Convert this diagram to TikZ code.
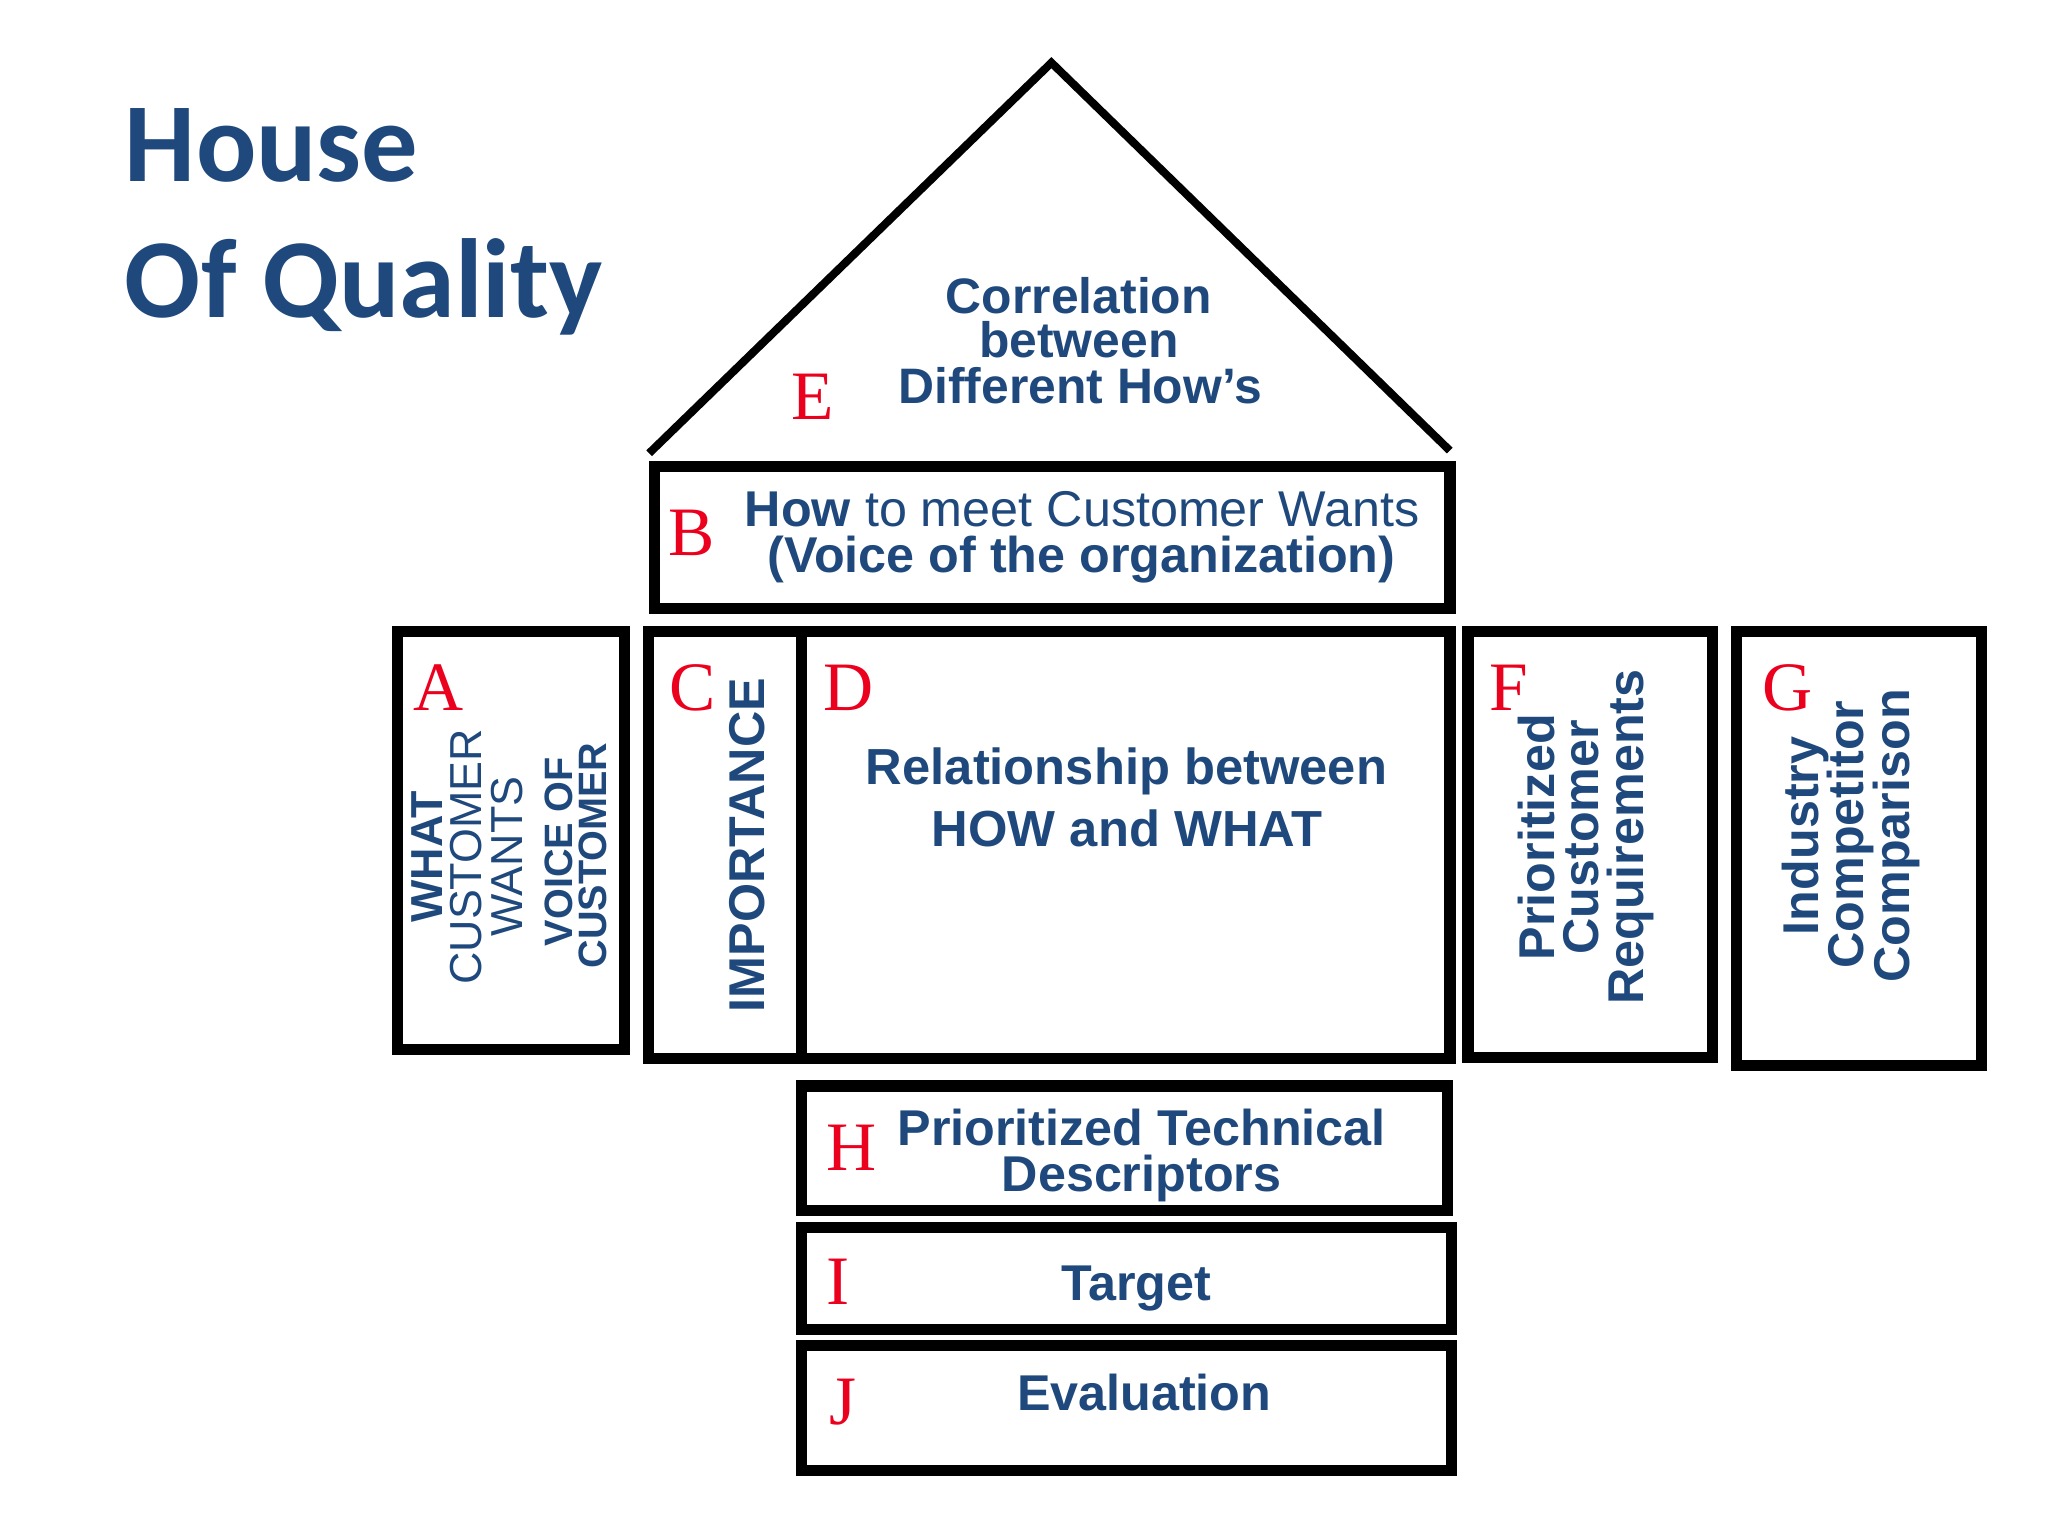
\documentclass[tikz,border=0pt]{standalone}
\usepackage{fontspec}
\setmainfont{Liberation Sans}
\newfontfamily\titlefont{Carlito}
\newfontfamily\letterfont{Liberation Serif}
\definecolor{navy}{RGB}{31,73,125}
\definecolor{lred}{RGB}{235,0,30}
\begin{document}
\begin{tikzpicture}[x=0.01cm,y=-0.01cm,
  box/.style={draw=black,line width=2.42pt,inner sep=0pt,outer sep=0pt},
  roofline/.style={draw=black,line width=1.75pt,line join=miter},
  txt/.style={text=navy,font=\bfseries\fontsize{10.95pt}{11pt}\selectfont,inner sep=0pt,anchor=base},
  rtxt/.style={text=navy,font=\fontsize{10.95pt}{11pt}\selectfont,inner sep=0pt,anchor=base},
  lbl/.style={text=lred,font=\letterfont\fontsize{15.1pt}{15pt}\selectfont,inner sep=0pt,anchor=base west},
  ttl/.style={text=navy,font=\titlefont\bfseries\fontsize{24.5pt}{24pt}\selectfont,inner sep=0pt,anchor=base west}]
\useasboundingbox (0,0) rectangle (1568,1176);
% title
\node[ttl] (t1) at (95,139) {House};
\node[ttl] (t2) at (95,243) {Of Quality};
% roof
\coordinate (rl) at (497,347);
\coordinate (ra) at (805,48);
\coordinate (rr) at (1110,345);
\draw[roofline] (rl) -- (ra) -- (rr);
\node[txt,font=\bfseries\fontsize{10.85pt}{11pt}\selectfont] (e1) at (826,240) {Correlation};
\node[txt,font=\bfseries\fontsize{10.85pt}{11pt}\selectfont] (e2) at (826,274) {between};
\node[txt,font=\bfseries\fontsize{10.85pt}{11pt}\selectfont] (e3) at (827,309) {Different How’s};
\node[lbl] (E) at (605,321) {E};
% boxes
\node[box,minimum width=6.09cm,minimum height=1.09cm] (boxB) at (805.5,411.5) {};
\node[box,minimum width=1.735cm,minimum height=3.2cm] (boxA) at (391.25,643.5) {};
\node[box,minimum width=1.17cm,minimum height=3.27cm] (boxC) at (555,647) {};
\node[box,minimum width=4.965cm,minimum height=3.27cm] (boxD) at (861.75,647) {};
\node[box,minimum width=1.87cm,minimum height=3.26cm] (boxF) at (1217.5,646.5) {};
\node[box,minimum width=1.875cm,minimum height=3.32cm] (boxG) at (1423.25,649.5) {};
\node[box,minimum width=4.945cm,minimum height=0.955cm] (boxH) at (860.75,879.25) {};
\node[box,minimum width=4.975cm,minimum height=0.785cm] (boxI) at (862.25,978.75) {};
\node[box,minimum width=4.975cm,minimum height=0.955cm] (boxJ) at (862.25,1078.25) {};
% B
\node[lbl] (B) at (511,425) {B};
\node[rtxt] (b1) at (828.5,403) {\textbf{How} to meet Customer Wants};
\node[txt] (b2) at (828,438) {(Voice of the organization)};
% A
\node[lbl] (A) at (316,544) {A};
\node[txt,rotate=90,font=\bfseries\fontsize{9.76pt}{10pt}\selectfont] (a1) at (339,656) {WHAT};
\node[rtxt,rotate=90,font=\fontsize{9.76pt}{10pt}\selectfont] (a2) at (369,656) {CUSTOMER};
\node[rtxt,rotate=90,font=\fontsize{9.76pt}{10pt}\selectfont] (a3) at (400,656) {WANTS};
\node[txt,rotate=90,font=\bfseries\fontsize{8.62pt}{9pt}\selectfont] (a4) at (438,652) {VOICE OF};
\node[txt,rotate=90,font=\bfseries\fontsize{8.62pt}{9pt}\selectfont] (a5) at (464,655) {CUSTOMER};
% C
\node[lbl] (C) at (512,544) {C};
\node[txt,rotate=90] (c1) at (585,647) {IMPORTANCE};
% D
\node[lbl] (D) at (630,544) {D};
\node[txt,font=\bfseries\fontsize{11.04pt}{11pt}\selectfont] (d1) at (862.5,601) {Relationship between};
\node[txt,font=\bfseries\fontsize{11.04pt}{11pt}\selectfont] (d2) at (863,648) {HOW and WHAT};
% F
\node[lbl] (F) at (1140,544) {F};
\node[txt,rotate=90] (f1) at (1190,641) {Prioritized};
\node[txt,rotate=90] (f2) at (1224,641) {Customer};
\node[txt,rotate=90] (f3) at (1258,641) {Requirements};
% G
\node[lbl] (G) at (1349,544) {G};
\node[txt,rotate=90] (g1) at (1392,640) {Industry};
\node[txt,rotate=90] (g2) at (1427,639) {Competitor};
\node[txt,rotate=90] (g3) at (1462,640) {Comparison};
% H I J
\node[lbl] (H) at (632,896) {H};
\node[txt] (h1) at (874,877) {Prioritized Technical};
\node[txt] (h2) at (874,912) {Descriptors};
\node[lbl] (I) at (632,999) {I};
\node[txt] (i1) at (870,996) {Target};
\node[lbl] (J) at (634,1091) {J};
\node[txt] (j1) at (876,1080) {Evaluation};
\end{tikzpicture}
\end{document}
